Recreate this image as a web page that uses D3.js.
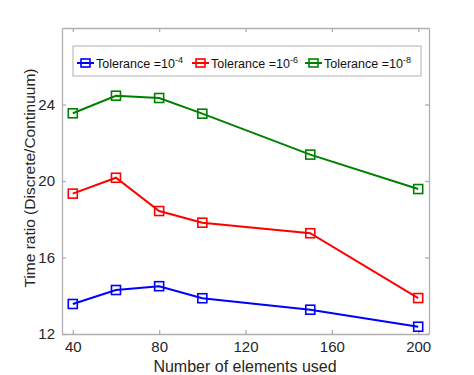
<!DOCTYPE html>
<html>
<head>
<meta charset="utf-8">
<script src="https://cdn.jsdelivr.net/npm/d3@7"></script>
<style>
  body { margin: 0; background: #fff; }
  text { font-family: "Liberation Sans", Arial, sans-serif; }
</style>
</head>
<body>
<div id="graph"></div>
<script>
const elements = [40, 60, 80, 100, 150, 200];
const tol4 = [13.57, 14.3, 14.5, 13.87, 13.27, 12.38];
const tol6 = [19.34, 20.17, 18.43, 17.82, 17.27, 13.88];
const tol8 = [23.54, 24.46, 24.34, 23.52, 21.38, 19.58];
const xTicks = [40, 80, 120, 160, 200];
const yTicks = [12, 16, 20, 24];
const seriesNames = ["-4", "-6", "-8"];
const seriesColors = ["#0000ff", "#ff0000", "#008000"];

const w = 474;
const h = 375;
const margin = { top: 28, right: 45, bottom: 41, left: 62 };

const series = [tol4, tol6, tol8].map((vals, i) => ({
  exp: seriesNames[i],
  color: seriesColors[i],
  values: elements.map((x, j) => ({ x: x, y: vals[j] }))
}));

const xScale = d3.scaleLinear().domain([35, 205]).range([margin.left, w - margin.right]);
const yScale = d3.scaleLinear().domain([12, 28]).range([h - margin.bottom, margin.top]);

const svg = d3.select("#graph").append("svg").attr("width", w).attr("height", h);

const axisColor = "#b0b0b0";
const tickLen = 4;

// axes with ticks pointing inward, MATLAB style
const xAxis = d3.axisBottom(xScale).tickValues(xTicks).tickSizeInner(-tickLen).tickSizeOuter(0).tickPadding(8);
const xAxisTop = d3.axisTop(xScale).tickValues(xTicks).tickSizeInner(-tickLen).tickSizeOuter(0).tickFormat("");
const yAxis = d3.axisLeft(yScale).tickValues(yTicks).tickSizeInner(-tickLen).tickSizeOuter(0).tickPadding(7);
const yAxisRight = d3.axisRight(yScale).tickValues(yTicks).tickSizeInner(-tickLen).tickSizeOuter(0).tickFormat("");

const gx = svg.append("g").attr("transform", `translate(0, ${h - margin.bottom})`).call(xAxis);
const gxt = svg.append("g").attr("transform", `translate(0, ${margin.top})`).call(xAxisTop);
const gy = svg.append("g").attr("transform", `translate(${margin.left}, 0)`).call(yAxis);
const gyr = svg.append("g").attr("transform", `translate(${w - margin.right}, 0)`).call(yAxisRight);

[gx, gxt, gy, gyr].forEach(function (g) {
  g.selectAll("path, line").attr("stroke", axisColor).attr("stroke-width", 1.3);
  g.selectAll("text").attr("fill", "#262626").style("font-size", "15px").style("font-family", "Liberation Sans, Arial, sans-serif");
});
gx.selectAll("text").attr("dy", "0.68em");

// lines and markers
const line = d3.line().x((d) => xScale(d.x)).y((d) => yScale(d.y));

series.forEach(function (s) {
  svg.append("path")
    .datum(s.values)
    .attr("d", line)
    .attr("fill", "none")
    .attr("stroke", s.color)
    .attr("stroke-width", 2);
  svg.selectAll(null)
    .data(s.values)
    .enter()
    .append("rect")
    .attr("x", (d) => xScale(d.x) - 4.5)
    .attr("y", (d) => yScale(d.y) - 4.5)
    .attr("width", 9)
    .attr("height", 9)
    .attr("fill", "none")
    .attr("stroke", s.color)
    .attr("stroke-width", 1.6);
});

// legend
const legend = svg.append("g").attr("transform", "translate(73, 46)");
legend.append("rect")
  .attr("width", 348).attr("height", 30)
  .attr("fill", "#fff").attr("stroke", "#b0b0b0").attr("stroke-width", 1);

const legendX = [4, 119, 232];
series.forEach(function (s, i) {
  const g = legend.append("g").attr("transform", `translate(${legendX[i]}, 17)`);
  g.append("line").attr("x1", 0).attr("x2", 17).attr("y1", 0).attr("y2", 0)
    .attr("stroke", s.color).attr("stroke-width", 2);
  g.append("rect").attr("x", 4).attr("y", -4).attr("width", 9).attr("height", 8)
    .attr("fill", "none").attr("stroke", s.color).attr("stroke-width", 1.6);
  const t = g.append("text").attr("x", 19).attr("y", 4.5)
    .style("font-size", "12.5px").attr("fill", "#111");
  t.append("tspan").text("Tolerance =10");
  t.append("tspan").attr("dy", -5).style("font-size", "9px").text(s.exp);
});

// axis labels
svg.append("text")
  .attr("x", 245)
  .attr("y", 372)
  .attr("text-anchor", "middle")
  .style("font-size", "16px")
  .attr("fill", "#262626")
  .text("Number of elements used");

svg.append("text")
  .attr("transform", "translate(35, 178) rotate(-90)")
  .attr("text-anchor", "middle")
  .style("font-size", "15.5px")
  .attr("fill", "#262626")
  .text("Time ratio (Discrete/Continuum)");
</script>
</body>
</html>
